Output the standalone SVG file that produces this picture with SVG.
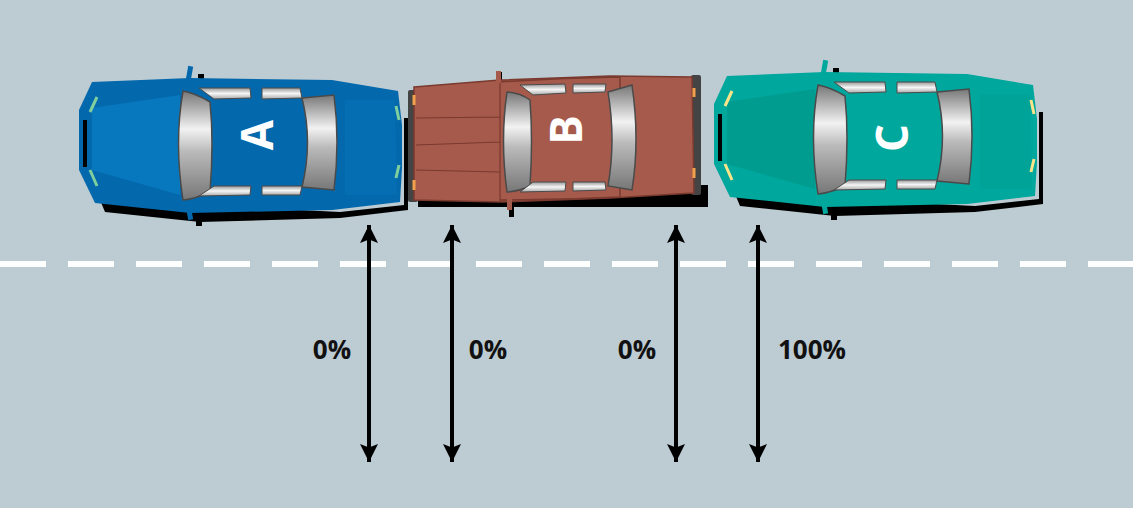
<svg xmlns="http://www.w3.org/2000/svg" width="1133" height="508" viewBox="0 0 1133 508">
<style>
.bg{fill:#bdcbd3}
.body{fill:var(--b)}
.hood{fill:var(--h)}
.lamp{fill:none;stroke:var(--l);stroke-width:3}
.glass{stroke:#4a4a4a;stroke-width:1.5;fill:url(#glassG)}
.side{stroke:#4a4a4a;stroke-width:1;fill:url(#sideG)}
.shadow{fill:#000}
.lbl{font-family:"Open Sans","Liberation Sans",sans-serif;font-weight:bold;fill:#fff;font-size:44px}
.pct{font-family:"Open Sans","Liberation Sans",sans-serif;font-weight:bold;fill:#111;font-size:26px}
.arr{stroke:#000;stroke-width:4;fill:none}
</style>
<defs>
<linearGradient id="glassG" x1="0" y1="0" x2="0" y2="1">
<stop offset="0" stop-color="#777"/><stop offset="0.35" stop-color="#f2f2f2"/><stop offset="0.55" stop-color="#bbb"/><stop offset="1" stop-color="#777"/>
</linearGradient>
<linearGradient id="sideG" x1="0" y1="0" x2="0" y2="1">
<stop offset="0" stop-color="#999"/><stop offset="0.5" stop-color="#f5f5f5"/><stop offset="1" stop-color="#aaa"/>
</linearGradient>
<marker id="ah" viewBox="0 0 10 10" refX="10" refY="5" markerWidth="28" markerHeight="18" orient="auto-start-reverse" markerUnits="userSpaceOnUse">
<path d="M0,0 L10,5 L0,10 L2,5 Z" fill="#000"/>
</marker>
<g id="car">
<path class="shadow" d="M100,200 L340,212 L404,205 L404,118 L408,118 L408,210 L340,218 L200,222 L105,212 Z"/>
<rect class="shadow" x="196" y="205" width="6" height="21"/>
<rect class="shadow" x="198" y="74" width="6" height="8"/>
<path class="body" d="M92,82 L190,78 L332,80 L398,91 L402,125 L402,168 L400,202 L332,210 L190,213 L95,203 L79,170 L79,110 Z"/>
<path class="hood" d="M92,108 L180,95 L180,195 L92,170 Z" opacity="0.6"/>
<path class="hood" d="M345,100 L395,100 L397,195 L345,195 Z" opacity="0.2"/>
<rect class="body" x="187" y="66" width="5" height="14" transform="rotate(10 189 73)"/>
<rect class="body" x="187" y="206" width="5" height="14" transform="rotate(-10 189 213)"/>
<path class="lamp" d="M97,97 L90,112 M90,170 L97,186 M396,106 L399,120 M399,165 L396,178"/>
<path class="shadow" d="M83,120 L87,120 L87,167 L83,167 Z"/>
<path class="glass" d="M183,91 Q195,93 210,102 Q214,142 210,192 Q195,199 183,200 Q174,142 183,91 Z"/>
<path class="glass" d="M302,98 L334,95 Q340,142 334,190 L302,187 Q313,142 302,98 Z"/>
<path class="side" d="M199,88 L250,88 L251,98 L214,99 Z"/>
<path class="side" d="M262,88 L300,88 L302,98 L262,99 Z"/>
<path class="side" d="M214,186 L251,186 L250,195 L199,196 Z"/>
<path class="side" d="M262,186 L302,186 L300,195 L262,195 Z"/>
</g>
</defs>
<rect class="bg" width="1133" height="508"/>
<line x1="0" y1="264" x2="1133" y2="264" stroke="#fff" stroke-width="6" stroke-dasharray="46,22"/>

<g id="car-a" style="--b:#0468ad;--h:#0a84c8;--l:#7fcf9e">
<use href="#car"/>
<text class="lbl" transform="translate(273,135) rotate(-90)" text-anchor="middle">A</text>
</g>

<g id="car-c" style="--b:#00a79d;--h:#009487;--l:#f8e58a">
<use href="#car" transform="translate(635,-6)"/>
<text class="lbl" transform="translate(908,138) rotate(-90)" text-anchor="middle">C</text>
</g>

<g id="car-b">
<rect class="shadow" x="418" y="185" width="290" height="22"/>
<rect class="shadow" x="509" y="195" width="5" height="22"/>
<rect class="shadow" x="497" y="72" width="5" height="8"/>
<rect x="408" y="90" width="10" height="112" rx="2" fill="#444"/>
<rect x="691" y="75" width="10" height="120" rx="2" fill="#444"/>
<path d="M414,87 L500,80 L610,76 L692,77 L694,193 L610,198 L500,202 L414,200 Z" fill="#a65a4c" stroke="#7a3a2e" stroke-width="1.5"/>
<path d="M416,118 L500,117 M416,145 L500,142 M416,170 L500,172 M500,80 L500,202" stroke="#7a3a2e" stroke-width="1.2"/>
<path d="M500,82 Q560,78 620,77 L620,197 Q560,200 500,200" fill="none" stroke="#7a3a2e" stroke-width="1.5"/>
<rect x="496" y="71" width="5" height="12" fill="#a65a4c"/>
<rect x="507" y="198" width="5" height="12" fill="#a65a4c"/>
<path class="glass" d="M507,92 Q520,93 530,100 Q533,140 530,186 Q520,191 507,192 Q500,140 507,92 Z"/>
<path class="glass" d="M608,92 L632,85 Q640,140 632,190 L608,186 Q616,140 608,92 Z"/>
<path class="side" d="M520,85 L565,84 L566,93 L533,95 Z"/>
<path class="side" d="M573,84 L606,84 L605,92 L573,93 Z"/>
<path class="side" d="M533,182 L566,182 L565,191 L520,192 Z"/>
<path class="side" d="M573,182 L605,182 L606,190 L573,191 Z"/>
<path d="M414,95 L414,105 M414,180 L414,190 M694,88 L694,97 M694,168 L694,178" stroke="#f2a14a" stroke-width="3"/>
<text class="lbl" transform="translate(582,130) rotate(-90)" text-anchor="middle">B</text>
</g>

<g id="connectors">
<line class="arr" x1="369" y1="225" x2="369" y2="462" marker-start="url(#ah)" marker-end="url(#ah)"/>
<line class="arr" x1="452" y1="225" x2="452" y2="462" marker-start="url(#ah)" marker-end="url(#ah)"/>
<line class="arr" x1="676" y1="225" x2="676" y2="462" marker-start="url(#ah)" marker-end="url(#ah)"/>
<line class="arr" x1="758" y1="225" x2="758" y2="462" marker-start="url(#ah)" marker-end="url(#ah)"/>
</g>
<text class="pct" x="332" y="359" text-anchor="middle">0%</text>
<text class="pct" x="488" y="359" text-anchor="middle">0%</text>
<text class="pct" x="637" y="359" text-anchor="middle">0%</text>
<text class="pct" x="812" y="359" text-anchor="middle">100%</text>
</svg>
